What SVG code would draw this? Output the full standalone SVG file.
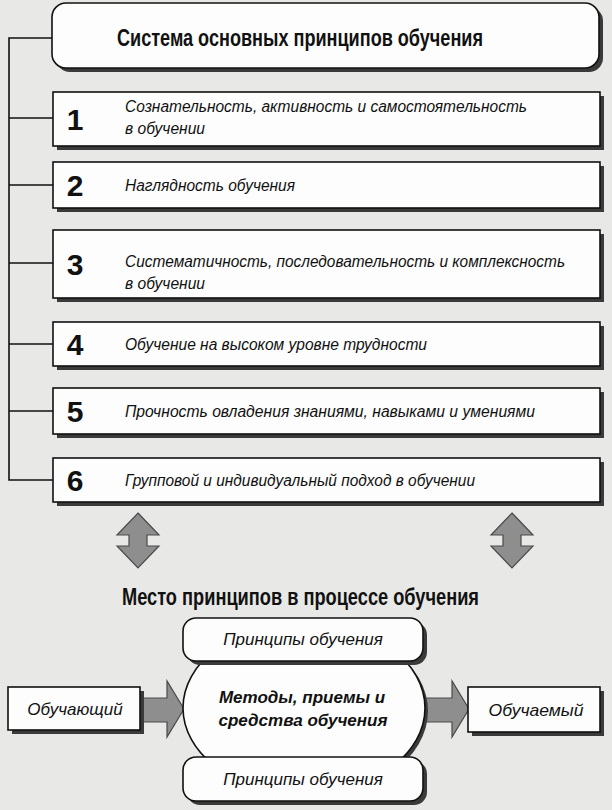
<svg xmlns="http://www.w3.org/2000/svg" width="612" height="810" viewBox="0 0 612 810">
<style>
.bg{fill:#e8e8e6}
.box{fill:#fdfdfd;stroke:#111;stroke-width:1.6}
.sh{fill:#3a3a3a}
.ln{stroke:#111;stroke-width:1.6;fill:none}
.arr{fill:#8e8e8e;stroke:#4a4a4a;stroke-width:1.2}
.ttl{font-family:"Liberation Sans Narrow","Liberation Sans",Arial,sans-serif;font-weight:bold;font-size:23px;fill:#111}
.num{font-family:"Liberation Sans Narrow","Liberation Sans",Arial,sans-serif;font-weight:bold;font-size:30px;fill:#111;text-anchor:middle}
.it{font-family:"Liberation Sans",Arial,sans-serif;font-style:italic;font-size:16px;fill:#111}
.it2{font-family:"Liberation Sans",Arial,sans-serif;font-style:italic;font-size:17px;fill:#111;text-anchor:middle}
.bi{font-family:"Liberation Sans",Arial,sans-serif;font-style:italic;font-weight:bold;font-size:17px;fill:#111;text-anchor:middle}
</style>
<rect class="bg" x="0" y="0" width="612" height="810"/>

<g id="connectors">
  <polyline class="ln" points="52,38 9,38 9,480 53,480"/>
  <line class="ln" x1="9" y1="118" x2="53" y2="118"/>
  <line class="ln" x1="9" y1="185" x2="53" y2="185"/>
  <line class="ln" x1="9" y1="263" x2="53" y2="263"/>
  <line class="ln" x1="9" y1="344" x2="53" y2="344"/>
  <line class="ln" x1="9" y1="411" x2="53" y2="411"/>
  <path class="arr" d="M138,513 L159,535 L147,535 L147,546 L159,546 L138,568 L117,546 L129,546 L129,535 L117,535 Z"/>
  <path class="arr" d="M512,513 L533,535 L521,535 L521,546 L533,546 L512,568 L491,546 L503,546 L503,535 L491,535 Z"/>
  <path class="arr" d="M140,698 L167,698 L167,681 L184,709 L167,737 L167,722 L140,722 Z"/>
  <path class="arr" d="M425,698 L452,698 L452,681 L469,709 L452,737 L452,722 L425,722 Z"/>
</g>

<g id="title">
  <rect class="sh" x="56" y="7" width="547" height="65" rx="14"/>
  <rect class="box" x="52" y="3" width="547" height="65" rx="14"/>
  <text class="ttl" x="117" y="46" textLength="366" lengthAdjust="spacingAndGlyphs">Система основных принципов обучения</text>
</g>

<g id="p1">
  <rect class="sh" x="57" y="96" width="547" height="54"/>
  <rect class="box" x="53" y="92" width="547" height="54"/>
  <text class="num" x="75" y="130">1</text>
  <text class="it" x="125" y="112" textLength="402" lengthAdjust="spacingAndGlyphs">Сознательность, активность и самостоятельность</text>
  <text class="it" x="125" y="134" textLength="80" lengthAdjust="spacingAndGlyphs">в обучении</text>
</g>

<g id="p2">
  <rect class="sh" x="57" y="166" width="547" height="46"/>
  <rect class="box" x="53" y="162" width="547" height="46"/>
  <text class="num" x="75" y="196">2</text>
  <text class="it" x="125" y="191" textLength="170" lengthAdjust="spacingAndGlyphs">Наглядность обучения</text>
</g>

<g id="p3">
  <rect class="sh" x="57" y="234" width="547" height="68"/>
  <rect class="box" x="53" y="230" width="547" height="68"/>
  <text class="num" x="75" y="275">3</text>
  <text class="it" x="125" y="267" textLength="440" lengthAdjust="spacingAndGlyphs">Систематичность, последовательность и комплексность</text>
  <text class="it" x="125" y="289" textLength="80" lengthAdjust="spacingAndGlyphs">в обучении</text>
</g>

<g id="p4">
  <rect class="sh" x="57" y="326" width="547" height="44"/>
  <rect class="box" x="53" y="322" width="547" height="44"/>
  <text class="num" x="75" y="355">4</text>
  <text class="it" x="125" y="350" textLength="302" lengthAdjust="spacingAndGlyphs">Обучение на высоком уровне трудности</text>
</g>

<g id="p5">
  <rect class="sh" x="57" y="392" width="547" height="46"/>
  <rect class="box" x="53" y="388" width="547" height="46"/>
  <text class="num" x="75" y="422">5</text>
  <text class="it" x="125" y="417" textLength="410" lengthAdjust="spacingAndGlyphs">Прочность овладения знаниями, навыками и умениями</text>
</g>

<g id="p6">
  <rect class="sh" x="57" y="462" width="547" height="44"/>
  <rect class="box" x="53" y="458" width="547" height="44"/>
  <text class="num" x="75" y="491">6</text>
  <text class="it" x="125" y="486" textLength="350" lengthAdjust="spacingAndGlyphs">Групповой и индивидуальный подход в обучении</text>
</g>

<g id="heading">
  <text class="ttl" x="122" y="605" textLength="357" lengthAdjust="spacingAndGlyphs">Место принципов в процессе обучения</text>
</g>

<g id="methods">
  <ellipse class="sh" cx="307" cy="711" rx="121" ry="86"/>
  <ellipse class="box" cx="304" cy="708" rx="121" ry="86"/>
  <text class="bi" x="302" y="703">Методы, приемы и</text>
  <text class="bi" x="303" y="726" textLength="169" lengthAdjust="spacingAndGlyphs">средства обучения</text>
</g>

<g id="principles-top">
  <rect class="sh" x="187" y="622" width="240" height="43" rx="13"/>
  <rect class="box" x="183" y="618" width="240" height="43" rx="13"/>
  <text class="it2" x="303" y="645">Принципы обучения</text>
</g>

<g id="principles-bottom">
  <rect class="sh" x="187" y="761" width="240" height="44" rx="13"/>
  <rect class="box" x="183" y="757" width="240" height="44" rx="13"/>
  <text class="it2" x="303" y="785">Принципы обучения</text>
</g>

<g id="teacher">
  <rect class="sh" x="12" y="691" width="132" height="43"/>
  <rect class="box" x="8" y="687" width="132" height="43"/>
  <text class="it2" x="75" y="715">Обучающий</text>
</g>

<g id="learner">
  <rect class="sh" x="472" y="691" width="132" height="45"/>
  <rect class="box" x="468" y="687" width="132" height="45"/>
  <text class="it2" x="536" y="716" textLength="95" lengthAdjust="spacingAndGlyphs">Обучаемый</text>
</g>
</svg>
